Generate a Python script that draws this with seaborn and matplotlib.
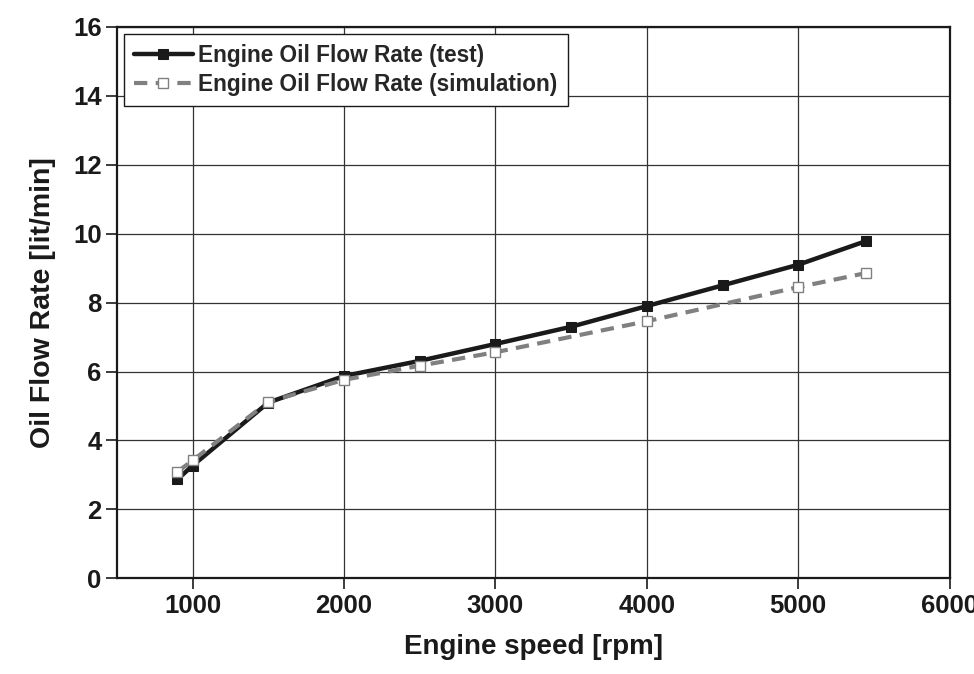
import numpy as np
import matplotlib
matplotlib.use("Agg")
import matplotlib.pyplot as plt
import pandas as pd
import seaborn as sns

# engine speed [rpm] and oil flow rate [lit/min]
speed_test = [900, 1000, 1500, 2000, 2500, 3000, 3500, 4000, 4500, 5000, 5450]
flow_test = [2.87, 3.27, 5.10, 5.87, 6.31, 6.80, 7.30, 7.90, 8.50, 9.10, 9.79]

speed_sim = [900, 1000, 1500, 2000, 2500, 3000, 4000, 5000, 5450]
flow_sim = [3.09, 3.42, 5.12, 5.76, 6.17, 6.56, 7.46, 8.45, 8.86]

label_test = 'Engine Oil Flow Rate (test)'
label_sim = 'Engine Oil Flow Rate (simulation)'

x_ticks = [1000, 2000, 3000, 4000, 5000, 6000]
y_ticks = [0, 2, 4, 6, 8, 10, 12, 14, 16]

sns.set_style("white")
plt.rcParams['font.family'] = ['Liberation Sans', 'DejaVu Sans']
plt.rcParams['font.weight'] = 'bold'

df_test = pd.DataFrame({'speed': speed_test, 'flow': flow_test})
df_sim = pd.DataFrame({'speed': speed_sim, 'flow': flow_sim})

fig = plt.figure(figsize=(9.74, 6.74), dpi=100)
ax = fig.add_axes([0.120, 0.142, 0.855, 0.818])

sns.lineplot(data=df_test, x='speed', y='flow', ax=ax, color='#1a1a1a',
             lw=3.2, marker='s', markersize=7, markeredgecolor='#1a1a1a',
             markerfacecolor='#1a1a1a', label=label_test)
sns.lineplot(data=df_sim, x='speed', y='flow', ax=ax, color='#808080',
             lw=3, linestyle=(0, (3.2, 2)), marker='s', markersize=7,
             markeredgecolor='#808080', markeredgewidth=1,
             markerfacecolor='white', label=label_sim)

ax.set_xlim(500, 6000)
ax.set_ylim(0, 16)
ax.set_xticks(x_ticks)
ax.set_yticks(y_ticks)
ax.grid(True, color='#333333', lw=0.9)
ax.set_axisbelow(True)
for s in ax.spines.values():
    s.set_color('#1a1a1a')
    s.set_linewidth(1.6)

ax.tick_params(axis='both', which='both', direction='out', length=8, width=1.2,
               color='#1a1a1a', labelsize=18.5, pad=3, bottom=True, left=True)
for lab in ax.get_xticklabels() + ax.get_yticklabels():
    lab.set_fontweight('bold')
    lab.set_color('#1a1a1a')

ax.set_xlabel('Engine speed [rpm]', fontsize=20, fontweight='bold',
              color='#1a1a1a', labelpad=12)
ax.set_ylabel('Oil Flow Rate [lit/min]', fontsize=20.5, fontweight='bold',
              color='#1a1a1a', labelpad=12)

leg = ax.legend(loc='upper left', frameon=True, fancybox=False,
                framealpha=1, edgecolor='#1a1a1a', handlelength=2.6,
                handletextpad=0.25, borderpad=0.45, labelspacing=0.25,
                borderaxespad=0.3,
                prop={'weight': 'bold', 'size': 16.3})
leg.get_frame().set_linewidth(1.0)

fig.savefig('out.png', dpi=100)
